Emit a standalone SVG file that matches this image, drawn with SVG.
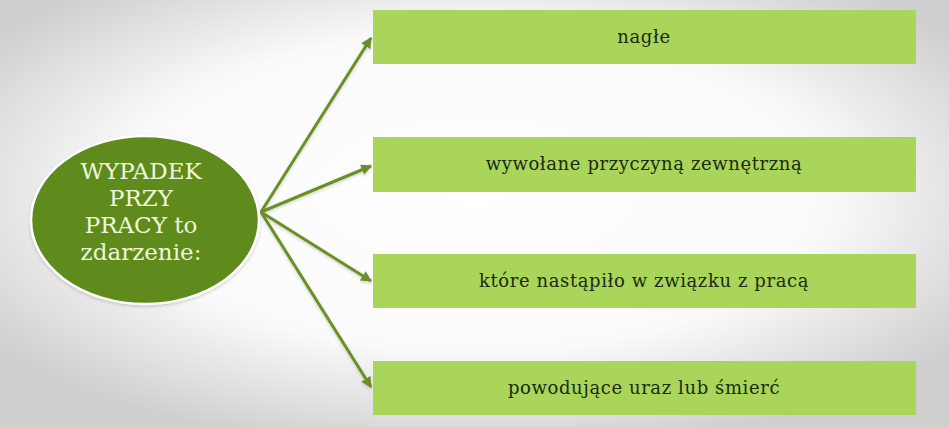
<svg xmlns="http://www.w3.org/2000/svg" width="949" height="427" viewBox="0 0 949 427">
<defs>
<radialGradient id="bg" cx="0.5" cy="0.45" r="0.62">
<stop offset="0" stop-color="#ffffff"/>
<stop offset="0.6" stop-color="#fafafa"/>
<stop offset="1" stop-color="#cfcfcf"/>
</radialGradient>
<marker id="ah" viewBox="0 0 10 10" refX="9" refY="5" markerWidth="3.6" markerHeight="3.6" orient="auto" markerUnits="strokeWidth">
<path d="M0,0 L10,5 L0,10 Z" fill="#6a8f25"/>
</marker>
<filter id="sh" x="-10%" y="-10%" width="120%" height="130%">
<feDropShadow dx="0" dy="1.5" stdDeviation="1.5" flood-color="#000" flood-opacity="0.18"/>
</filter>
</defs>
<style>
.box{fill:#a9d65a;}
.lbl{font-family:"DejaVu Serif","Liberation Serif",serif;font-size:18px;letter-spacing:0.6px;fill:#1c2a12;text-anchor:middle;}
.ctr{font-family:"DejaVu Serif","Liberation Serif",serif;font-size:23px;fill:#eef7dc;text-anchor:middle;}
.conn{stroke:#6a8f25;stroke-width:3;fill:none;marker-end:url(#ah);}
</style>
<rect width="949" height="427" fill="url(#bg)"/>
<g id="connectors" filter="url(#sh)">
<line class="conn" x1="261" y1="212" x2="371" y2="38"/>
<line class="conn" x1="261" y1="212" x2="371" y2="166"/>
<line class="conn" x1="261" y1="212" x2="371" y2="281"/>
<line class="conn" x1="261" y1="212" x2="371" y2="387"/>
</g>
<g id="center">
<ellipse cx="145" cy="220" rx="114" ry="84" fill="#5e8a1e" stroke="#ffffff" stroke-width="2.5" filter="url(#sh)"/>
<text class="ctr" x="141" y="179">WYPADEK</text>
<text class="ctr" x="141" y="206">PRZY</text>
<text class="ctr" x="141" y="233">PRACY to</text>
<text class="ctr" x="141" y="260">zdarzenie:</text>
</g>
<g id="n1">
<rect class="box" x="373" y="10" width="543" height="54"/>
<text class="lbl" x="644" y="43">nagłe</text>
</g>
<g id="n2">
<rect class="box" x="373" y="137" width="543" height="55"/>
<text class="lbl" x="644" y="170">wywołane przyczyną zewnętrzną</text>
</g>
<g id="n3">
<rect class="box" x="373" y="254" width="543" height="54"/>
<text class="lbl" x="644" y="287">które nastąpiło w związku z pracą</text>
</g>
<g id="n4">
<rect class="box" x="373" y="361" width="543" height="54"/>
<text class="lbl" x="644" y="394">powodujące uraz lub śmierć</text>
</g>
</svg>
